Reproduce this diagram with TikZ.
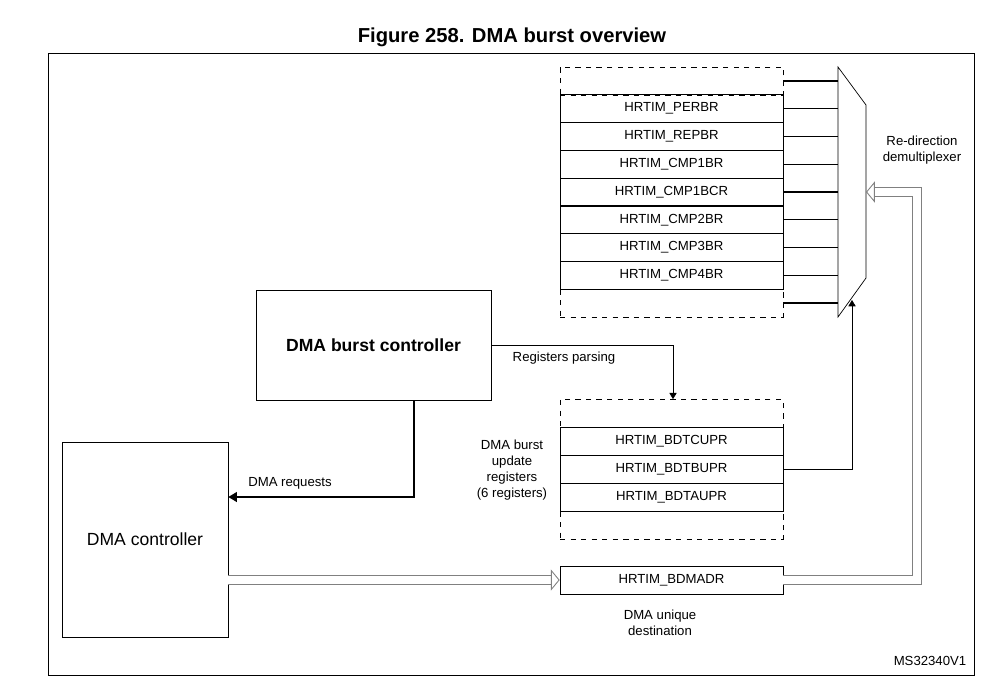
\documentclass[tikz,border=0pt]{standalone}
\usepackage{fontspec}
\setmainfont{Liberation Sans}
\usetikzlibrary{arrows.meta}

\tikzset{
  reg/.style={draw,minimum width=4.46cm,minimum height=0.56cm,inner sep=0pt,font=\fontsize{7.5}{8.5}\selectfont},
  regd/.style={reg,dashed},
  lbl/.style={font=\fontsize{7.5}{9}\selectfont,align=center},
  bus/.style={draw=gray,double=white,double distance=4.5pt,line width=0.5pt,-{Triangle[open,length=5pt,width=12pt]}}
}

\begin{document}
\begin{tikzpicture}[x=0.02cm,y=-0.02cm]

\useasboundingbox (0,0) rectangle (983,687);
\draw (48,53) rectangle (974,675);
\node[font=\fontsize{11.5}{13}\selectfont\bfseries] (title) at (512,37) {Figure 258. DMA burst overview};

% register stack
\node[regd] (r0) at (671.5,81) {};
\foreach \i/\t in {1/PERBR,2/REPBR,3/CMP1BR,4/CMP1BCR,5/CMP2BR,6/CMP3BR,7/CMP4BR}
  \node[reg] (r\i) at (671.5,81+27.75*\i) {HRTIM\_\t};
\node[regd] (r8) at (671.5,303) {};

% demultiplexer
\coordinate (d1) at (838,67);
\coordinate (d2) at (866,105);
\coordinate (d3) at (866,278);
\coordinate (d4) at (838,317);
\draw (d1) -- (d2) -- (d3) -- (d4) -- cycle;
\foreach \i in {0,...,8}
  \draw[thick] (r\i.east) -- (r\i.east -| d1);
\node[lbl] (dmxl) at (922,150) {Re-direction\\demultiplexer};

% burst controller
\node[draw,minimum width=4.7cm,minimum height=2.2cm,font=\fontsize{10}{11}\selectfont\bfseries] (bc) at (373.5,345) {DMA burst controller};

% update registers
\node[regd] (u0) at (671.5,413.5) {};
\node[reg] (u1) at (671.5,441) {HRTIM\_BDTCUPR};
\node[reg] (u2) at (671.5,469) {HRTIM\_BDTBUPR};
\node[reg] (u3) at (671.5,497) {HRTIM\_BDTAUPR};
\node[regd] (u4) at (671.5,525) {};
\node[lbl] (ul) at (512,470) {DMA burst\\update\\registers\\(6 registers)};

% DMA controller
\node[draw,minimum width=3.32cm,minimum height=3.9cm,font=\fontsize{10}{11}\selectfont] (dc) at (145,539.5) {DMA controller};

% destination
\node[reg] (dst) at (671.5,580) {HRTIM\_BDMADR};
\node[lbl] (dstl) at (660,623) {DMA unique\\destination};

\draw[->,thick,>=Triangle] (bc.south -| 414,0) |- (dc.east |- 0,497);
\node[lbl] (rq) at (290,483) {DMA requests};

\draw[->,>=Triangle] (bc.east |- 0,345) -| (u0.north -| 673,0);
\node[lbl] (rp) at (564,358) {Registers parsing};

\draw[->,>=Triangle] (u2.east) -| (852,300);

\draw[bus] (dc.east |- dst) -- (dst.west);
\draw[bus] (dst.east) -| (917,192) -- (866,192);

\node[lbl] (ms) at (930,661) {MS32340V1};
\end{tikzpicture}
\end{document}
